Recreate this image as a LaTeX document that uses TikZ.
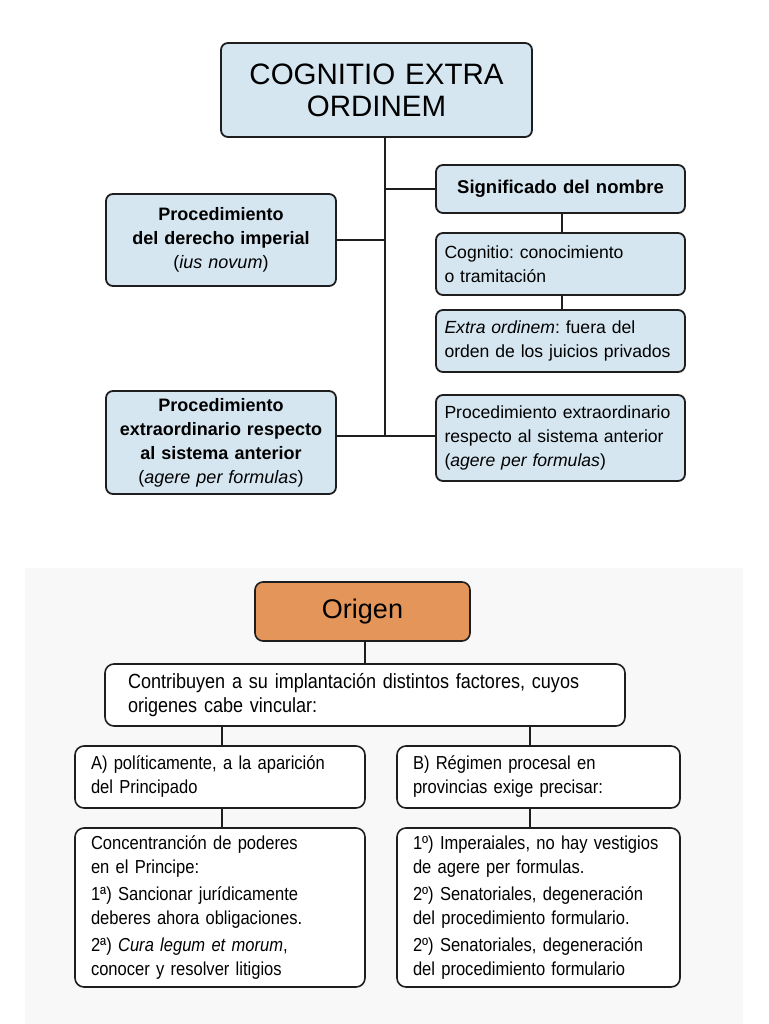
\documentclass[tikz,border=0pt]{standalone}
\usepackage{fontspec}
\setmainfont{Liberation Sans}
\newfontfamily\condfont[FakeStretch=0.88,WordSpace=0.8]{Liberation Sans}
\usetikzlibrary{positioning}

\definecolor{boxblue}{HTML}{D5E6F1}
\definecolor{origenorange}{HTML}{E4955A}
\definecolor{panelgray}{HTML}{F8F8F8}
\definecolor{lineblack}{HTML}{1E1E1E}

\begin{document}
\frenchspacing
\hyphenpenalty=10000
\exhyphenpenalty=10000
\begin{tikzpicture}[x=1pt,y=-1pt,
    conn/.style={draw=lineblack,line width=1.8pt},
    bluebox/.style={draw=lineblack,line width=1.8pt,fill=boxblue,rounded corners=7pt,
        inner xsep=13pt,inner ysep=0pt,font=\fontsize{17.6}{24}\selectfont},
    leftbox/.style={bluebox,inner xsep=8.5pt,text width=232,align=left},
    boldtext/.style={font=\bfseries\fontsize{18}{24}\selectfont},
    whitebox/.style={draw=lineblack,line width=1.6pt,fill=white,rounded corners=9pt,
        inner xsep=16pt,inner ysep=0pt,font=\condfont\fontsize{18.8}{24}\selectfont,align=left}
]
    % Page and lower panel
    \useasboundingbox (0,0) rectangle (768,1024);
    \fill[white] (0,0) rectangle (768,1024);
    \fill[panelgray] (25,568) rectangle (743,1024);

    % Upper scheme
    \node[bluebox,minimum width=311,minimum height=94,text width=285,align=center,
        font=\fontsize{29.5}{32}\selectfont] (title) at (376.5,90) {COGNITIO EXTRA\\ORDINEM};
    \node[bluebox,boldtext,minimum width=249,minimum height=48,text width=223,align=center,
        font=\bfseries\fontsize{18.5}{24}\selectfont]
        (signif) at (560.5,189) {Significado del nombre};
    \node[leftbox,minimum width=249,minimum height=62]
        (cogn) at (560.5,264) {Cognitio: conocimiento\\o tramitación};
    \node[leftbox,minimum width=249,minimum height=62]
        (extra) at (560.5,341) {\textit{Extra ordinem}: fuera del\\orden de los juicios privados};
    \node[leftbox,minimum width=249,minimum height=86]
        (procright) at (560.5,438) {Procedimiento extraordinario\\respecto al sistema anterior\\(\textit{agere per formulas})};
    \node[bluebox,boldtext,minimum width=226,minimum height=92,text width=204,align=center]
        (procder) at (221,240) {Procedimiento\\del derecho imperial\\{\mdseries(\textit{ius novum})}};
    \node[bluebox,boldtext,minimum width=226,minimum height=103,text width=204,align=center]
        (procext) at (221,442.5) {Procedimiento\\extraordinario respecto\\al sistema anterior\\{\mdseries(\textit{agere per formulas})}};

    \coordinate (trunk) at (385,436);
    \coordinate (rightcol) at (562,0);
    \draw[conn] (title.south -| trunk) -- (trunk);
    \draw[conn] (signif.west) -- (signif.west -| trunk);
    \draw[conn] (procder.east) -- (procder.east -| trunk);
    \draw[conn] (procext.east |- trunk) -- (procright.west |- trunk);
    \draw[conn] (signif.south -| rightcol) -- (cogn.north -| rightcol);
    \draw[conn] (cogn.south -| rightcol) -- (extra.north -| rightcol);

    % Lower scheme
    \node[draw=lineblack,line width=1.6pt,fill=origenorange,rounded corners=8pt,
        minimum width=215,minimum height=59,font=\fontsize{27}{30}\selectfont]
        (origen) at (362.5,611.5) {Origen};
    \node[whitebox,inner xsep=23pt,minimum width=520,minimum height=62,text width=474,
        font=\condfont\fontsize{20.5}{24}\selectfont]
        (contrib) at (365,695) {Contribuyen a su implantación distintos factores, cuyos\\origenes cabe vincular:};
    \node[whitebox,minimum width=290,minimum height=62,text width=258]
        (polA) at (220,777) {A) políticamente, a la aparición\\del Principado};
    \node[whitebox,minimum width=283,minimum height=62,text width=251]
        (regB) at (538.5,777) {B) Régimen procesal en\\provincias exige precisar:};
    \node[whitebox,minimum width=290,minimum height=159,text width=258]
        (conc) at (220,907.5) {Concentranción de poderes\\en el Principe:\\[3pt]
        1ª) Sancionar jurídicamente\\deberes ahora obligaciones.\\[3pt]
        2ª) \textit{Cura legum et morum},\\conocer y resolver litigios};
    \node[whitebox,minimum width=283,minimum height=159,text width=251]
        (imper) at (538.5,907.5) {1º) Imperaiales, no hay vestigios\\de agere per formulas.\\[3pt]
        2º) Senatoriales, degeneración\\del procedimiento formulario.\\[3pt]
        2º) Senatoriales, degeneración\\del procedimiento formulario};

    \draw[conn,line width=1.6pt] (origen.south -| contrib.north) -- (contrib.north);
    \draw[conn,line width=1.6pt] ([xshift=2pt]polA.north) -- ([xshift=2pt]polA.north |- contrib.south);
    \draw[conn,line width=1.6pt] ([xshift=-8.5pt]regB.north) -- ([xshift=-8.5pt]regB.north |- contrib.south);
    \draw[conn,line width=1.6pt] ([xshift=2pt]polA.south) -- ([xshift=2pt]polA.south |- conc.north);
    \draw[conn,line width=1.6pt] ([xshift=-8.5pt]regB.south) -- ([xshift=-8.5pt]regB.south |- imper.north);
\end{tikzpicture}
\end{document}
